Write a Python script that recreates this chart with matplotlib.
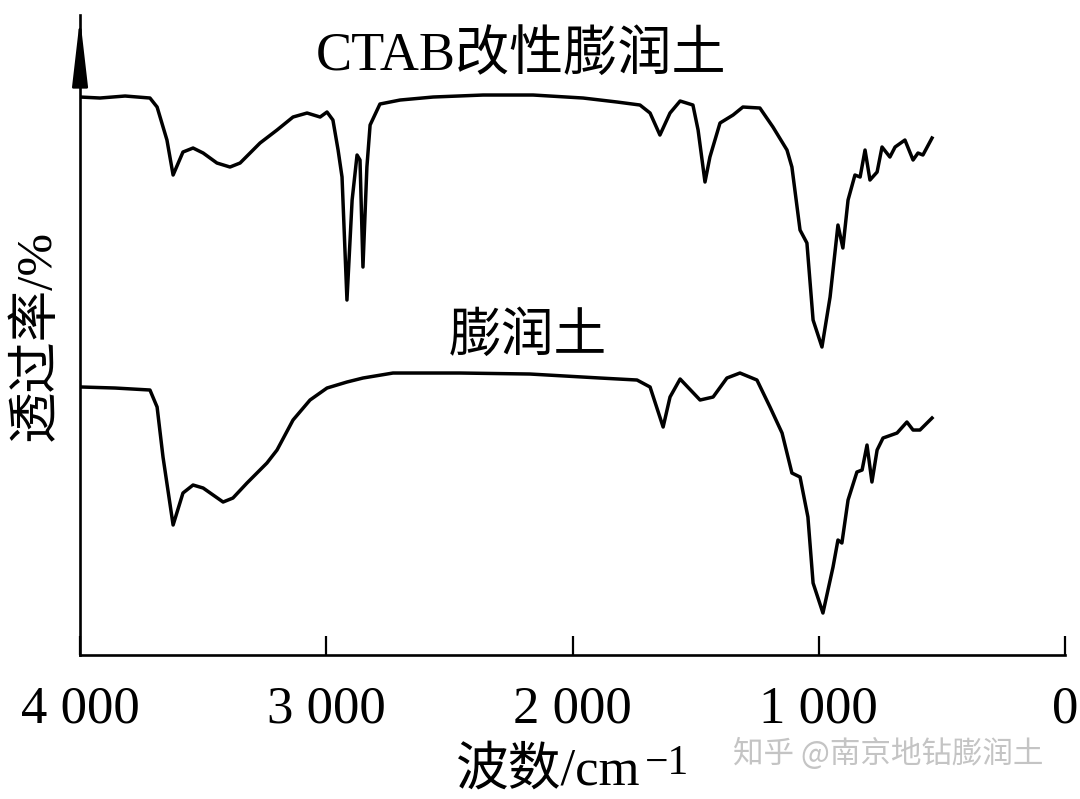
import matplotlib
matplotlib.use("Agg")
import matplotlib.pyplot as plt

plt.rcParams['font.family'] = ['Liberation Serif', 'Noto Sans CJK SC', 'DejaVu Sans']

# CTAB modified bentonite (upper curve), wavenumber / relative transmittance
ctab_wn = [4000, 3919, 3817, 3716, 3687, 3647, 3622, 3582, 3541, 3500, 3444, 3391,
           3350, 3269, 3200, 3135, 3078, 3025, 2997, 2973, 2952, 2936, 2916, 2895,
           2875, 2863, 2851, 2835, 2822, 2782, 2700, 2566, 2363, 2160, 1957, 1819,
           1726, 1685, 1645, 1604, 1563, 1511, 1490, 1462, 1442, 1401, 1348, 1308,
           1239, 1186, 1129, 1109, 1076, 1048, 1023, 987, 954, 922, 902, 881, 853,
           832, 812, 792, 763, 743, 711, 690, 650, 617, 597, 577, 540]
ctab_t = [558, 557, 559, 557, 548, 515, 480, 503, 507, 502, 492, 488,
          492, 512, 525, 538, 542, 538, 543, 535, 505, 478, 355, 455,
          500, 495, 388, 488, 530, 551, 555, 558, 560, 560, 557, 553,
          550, 542, 520, 542, 554, 550, 525, 473, 498, 532, 540, 548,
          547, 528, 505, 488, 425, 412, 335, 308, 358, 430, 407, 455, 480,
          478, 505, 475, 483, 508, 498, 508, 515, 495, 502, 500, 517]

# bentonite (lower curve)
bent_wn = [3992, 3858, 3716, 3687, 3663, 3622, 3582, 3541, 3500, 3419, 3379, 3322,
           3241, 3200, 3135, 3066, 2997, 2916, 2851, 2729, 2457, 2173, 1888, 1738,
           1685, 1632, 1604, 1563, 1482, 1429, 1373, 1320, 1251, 1198, 1149, 1109,
           1076, 1044, 1023, 983, 942, 922, 906, 881, 845, 824, 804, 784, 763, 739,
           682, 642, 617, 589, 540]
bent_t = [268, 267, 265, 248, 198, 130, 162, 170, 167, 153, 157, 172,
          192, 205, 235, 255, 267, 273, 277, 282, 282, 281, 277, 275,
          268, 228, 258, 276, 255, 258, 277, 282, 275, 248, 222, 182,
          178, 138, 72, 42, 88, 115, 112, 155, 183, 185, 210, 173, 205, 217,
          222, 233, 225, 225, 237]

ticks = [4000, 3000, 2000, 1000, 0]
tick_labels = ["4 000", "3 000", "2 000", "1 000", "0"]

fig = plt.figure(figsize=(10.8, 7.99), dpi=100)
ax = fig.add_axes([0.0741, 0.1802, 0.912, 0.801])

ax.plot(ctab_wn, ctab_t, color="black", lw=2.5, solid_joinstyle="round")
ax.plot(bent_wn, bent_t, color="black", lw=2.5, solid_joinstyle="round")

ax.set_xlim(4000, 0)
ax.set_ylim(0, 640)

for s in ["top", "right"]:
    ax.spines[s].set_visible(False)
for s in ["left", "bottom"]:
    ax.spines[s].set_linewidth(1.9)

ax.set_xticks(ticks)
ax.set_xticklabels(tick_labels, fontsize=38)
ax.tick_params(axis="x", direction="in", length=14, width=1.6, pad=22)
ax.set_yticks([])

# arrow at top of y axis
ax.annotate("", xy=(0, 1.0), xytext=(0, 0.93), xycoords="axes fraction",
            arrowprops=dict(arrowstyle="-|>,head_length=1.9,head_width=0.22",
                            color="black", lw=1.9, mutation_scale=22),
            annotation_clip=False)

# x label with a full size superscript
fig.text(0.422, 0.018, "波数/cm", fontsize=38, ha="left", va="baseline")
fig.text(0.597, 0.031, "−1", fontsize=30, ha="left", va="baseline")

ax.set_ylabel("透过率/%", fontsize=37, labelpad=14)

ax.text(0.448, 0.935, "CTAB改性膨润土", transform=ax.transAxes,
        fontsize=39, ha="center", va="center")
ax.text(0.455, 0.497, "膨润土", transform=ax.transAxes,
        fontsize=38, ha="center", va="center")

fig.text(0.822, 0.056, "知乎 @南京地钻膨润土", fontsize=22, color="#c4c4c4",
         ha="center", va="center", family=["Noto Sans CJK SC", "DejaVu Sans"])

fig.savefig("out.png", dpi=100)
